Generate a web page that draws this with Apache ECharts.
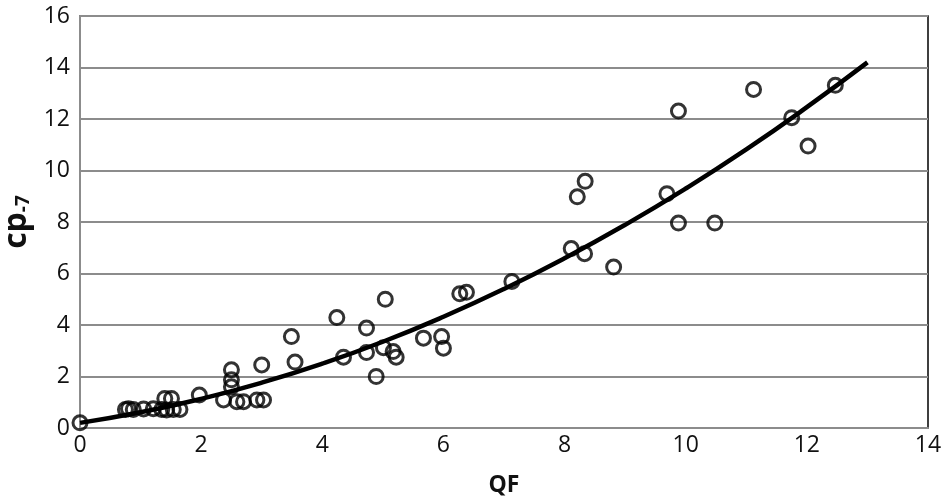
<!DOCTYPE html>
<html>
<head>
<meta charset="utf-8">
<script src="https://cdn.jsdelivr.net/npm/echarts@6/dist/echarts.min.js"></script>
<style>html,body{margin:0;padding:0;background:#fff}#c{width:941px;height:501px}</style>
</head>
<body>
<div id="c"></div>
<script>
const qf = [0, 0.75, 0.8, 0.88, 1.05, 1.21, 1.35, 1.4, 1.43, 1.51, 1.54, 1.65, 1.97, 2.37, 2.5, 2.5, 2.5, 2.59, 2.7, 2.92, 3.0, 3.03, 3.49, 3.55, 4.24, 4.35, 4.73, 4.73, 4.89, 5.01, 5.04, 5.17, 5.22, 5.67, 5.97, 6.0, 6.27, 6.38, 7.13, 8.11, 8.21, 8.33, 8.34, 8.81, 9.69, 9.88, 9.88, 10.48, 11.12, 11.75, 12.02, 12.47];
const cp = [0.2, 0.72, 0.75, 0.72, 0.74, 0.75, 0.72, 1.15, 0.7, 1.15, 0.72, 0.72, 1.28, 1.09, 2.26, 1.87, 1.6, 1.02, 1.02, 1.09, 2.45, 1.09, 3.55, 2.56, 4.29, 2.75, 3.88, 2.93, 2.0, 3.12, 5.0, 2.97, 2.75, 3.49, 3.55, 3.1, 5.21, 5.27, 5.69, 6.97, 8.98, 6.77, 9.58, 6.25, 9.1, 12.31, 7.96, 7.96, 13.15, 12.05, 10.95, 13.31];
const trendX = [0, 1, 2, 3, 4, 5, 6, 7, 8, 9, 10, 11, 12, 13];
const trendY = [0.2, 0.61, 1.13, 1.76, 2.5, 3.35, 4.32, 5.4, 6.59, 7.89, 9.3, 10.82, 12.46, 14.2];
const xTicks = [0, 2, 4, 6, 8, 10, 12, 14];
const yTicks = [0, 2, 4, 6, 8, 10, 12, 14, 16];

const chart = echarts.init(document.getElementById('c'));
const font = 'Open Sans, Noto Sans, sans-serif';
chart.setOption({
  animation: false,
  grid: {left: 80, right: 13, top: 16, bottom: 73, containLabel: false, outerBoundsMode: 'none', show: true, borderColor: '#000', borderWidth: 1.5, backgroundColor: '#fff'},
  xAxis: {
    type: 'value', min: xTicks[0], max: xTicks[xTicks.length-1], interval: 2,
    name: 'QF', nameLocation: 'middle', nameGap: 46,
    nameTextStyle: {fontFamily: font, fontWeight: 'bold', fontSize: 23, color: '#111'},
    axisLine: {show: true, lineStyle: {color: '#8c8c8c', width: 2}},
    axisTick: {show: false},
    axisLabel: {fontFamily: font, fontSize: 23, color: '#111', margin: 6},
    splitLine: {show: false}
  },
  yAxis: {
    type: 'value', min: yTicks[0], max: yTicks[yTicks.length-1], interval: 2,
    name: '{a|cp}{b|-7}', nameLocation: 'middle', nameGap: 46, nameRotate: 90,
    nameTextStyle: {rich: {
      a: {fontFamily: font, fontWeight: 'bold', fontSize: 32, color: '#111'},
      b: {fontFamily: font, fontWeight: 'bold', fontSize: 19, color: '#111', verticalAlign: 'bottom', padding: [12, 0, 0, 0]}
    }},
    axisLine: {show: true, lineStyle: {color: '#8c8c8c', width: 2}},
    axisTick: {show: false},
    axisLabel: {fontFamily: font, fontSize: 23, color: '#111', margin: 10},
    splitLine: {show: true, lineStyle: {color: '#8c8c8c', width: 2}}
  },
  series: [
    {
      type: 'scatter', data: qf.map((x, i) => [x, cp[i]]),
      symbol: 'circle', symbolSize: 14,
      itemStyle: {color: 'rgba(255,255,255,0)', borderColor: '#000', borderWidth: 3},
      z: 3
    },
    {
      type: 'line', data: trendX.map((x, i) => [x, trendY[i]]),
      smooth: true, showSymbol: false,
      lineStyle: {color: '#000', width: 4.5},
      z: 4
    }
  ]
});
</script>
</body>
</html>
